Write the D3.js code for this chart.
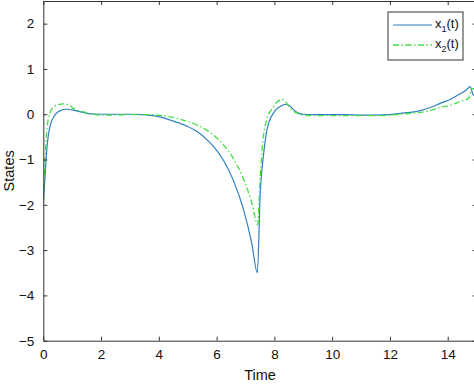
<!DOCTYPE html>
<html>
<head>
<meta charset="utf-8">
<script src="https://cdn.jsdelivr.net/npm/d3@7"></script>
<style>
  body { margin: 0; background: #fff; }
  svg { display: block; font-family: 'Liberation Sans', Arial, sans-serif; }
</style>
</head>
<body>
<svg id="chart" width="474" height="384"></svg>
<script>
// ---------- DATA ----------
const time1 = [0, 0.06, 0.12, 0.23, 0.4, 0.58, 0.81, 1.05, 1.3, 1.62, 2, 2.5, 3, 3.5, 3.8, 4.1, 4.4, 4.73, 5.0,
  5.43, 5.66, 5.89, 6.23, 6.58, 6.93, 7.22, 7.41, 7.51, 7.63, 7.74, 7.97, 8.2, 8.41, 8.55, 8.7, 8.85, 9.0, 9.5,
  10, 10.5, 11, 11.5, 12, 12.36, 12.7, 13.05, 13.4, 13.74, 14.1, 14.43, 14.65, 14.78, 14.88, 15];
const x1Values = [-1.96, -1.38, -0.79, -0.27, -0.02, 0.08, 0.11, 0.09, 0.05, 0.01, 0, 0, 0, -0.01, -0.03, -0.07, -0.13, -0.2, -0.27,
  -0.43, -0.56, -0.71, -1.01, -1.46, -2.1, -2.86, -3.5, -1.74, -0.86, -0.35, 0.03, 0.17, 0.22, 0.17, 0.08, 0.02, 0, -0.01,
  -0.01, -0.01, -0.02, -0.02, -0.01, 0.02, 0.04, 0.08, 0.15, 0.24, 0.33, 0.45, 0.54, 0.61, 0.43, 0.4];

const time2 = [0, 0.06, 0.12, 0.23, 0.4, 0.52, 0.69, 0.9, 1.04, 1.39, 1.62, 2, 2.5, 3, 3.5, 3.8, 4.1, 4.4, 4.73, 5.0,
  5.43, 5.89, 6.23, 6.58, 6.93, 7.22, 7.42, 7.5, 7.6, 7.72, 7.95, 8.1, 8.26, 8.45, 8.6, 8.8, 9.0, 9.5,
  10, 10.5, 11, 11.5, 12, 12.36, 12.7, 13.05, 13.4, 13.74, 14.1, 14.43, 14.72, 14.85, 15];
const x2Values = [-1.9, -1.0, -0.38, 0.03, 0.18, 0.21, 0.23, 0.2, 0.13, 0.05, 0.01, -0.02, -0.02, -0.01, -0.01, -0.01, -0.03, -0.06, -0.11, -0.16,
  -0.27, -0.46, -0.67, -0.98, -1.43, -1.96, -2.44, -1.5, -0.6, -0.15, 0.15, 0.27, 0.33, 0.22, 0.1, 0.02, -0.02, -0.03,
  -0.03, -0.03, -0.03, -0.03, -0.02, 0, 0.02, 0.04, 0.08, 0.15, 0.2, 0.28, 0.35, 0.57, 0.5];

const xTicks = [0, 2, 4, 6, 8, 10, 12, 14];
const yTicks = [-5, -4, -3, -2, -1, 0, 1, 2];
const seriesNames = ['x', 'x'];
const seriesSubs = ['1', '2'];

// ---------- CHART ----------
(function drawChart() {
  const svg = d3.select('#chart');
  const m = { left: 43.3, right: 476.6, top: 1, bottom: 340.7 };
  const axisColor = '#333';

  const x = d3.scaleLinear().domain([0, 15]).range([m.left, m.right]);
  const y = d3.scaleLinear().domain([-5, 2.5]).range([m.bottom, m.top]);

  svg.append('defs').append('clipPath').attr('id', 'clip')
    .append('rect').attr('x', m.left).attr('y', m.top)
    .attr('width', m.right - m.left).attr('height', m.bottom - m.top);

  const series = [
    { t: time1, v: x1Values, color: '#2f7fc1', dash: null, width: 1.2 },
    { t: time2, v: x2Values, color: '#3fe03f', dash: '6,2.5,1.5,2.5', width: 1.3 },
  ];

  const line = d3.line()
    .x((d) => x(d[0]))
    .y((d) => y(d[1]))
    .curve(d3.curveMonotoneX);

  const plot = svg.append('g').attr('clip-path', 'url(#clip)');
  series.forEach((s) => {
    plot.append('path')
      .datum(s.t.map((t, i) => [t, s.v[i]]))
      .attr('fill', 'none')
      .attr('stroke', s.color)
      .attr('stroke-width', s.width)
      .attr('stroke-dasharray', s.dash)
      .attr('d', line);
  });

  // axes: box with inward ticks
  const fontSize = 13.5;
  svg.append('g')
    .attr('transform', `translate(0,${m.bottom})`)
    .call(d3.axisBottom(x).tickValues(xTicks).tickSizeInner(-4).tickSizeOuter(0).tickPadding(9))
    .call((g) => g.select('.domain').attr('stroke', axisColor))
    .call((g) => g.selectAll('line').attr('stroke', axisColor))
    .call((g) => g.selectAll('text').attr('fill', '#111').attr('font-size', fontSize));

  svg.append('g')
    .attr('transform', `translate(0,${m.top})`)
    .call(d3.axisTop(x).tickValues(xTicks).tickSizeInner(-4).tickSizeOuter(0).tickFormat(''))
    .call((g) => g.select('.domain').attr('stroke', axisColor))
    .call((g) => g.selectAll('line').attr('stroke', axisColor));

  svg.append('g')
    .attr('transform', `translate(${m.left},0)`)
    .call(d3.axisLeft(y).tickValues(yTicks).tickSizeInner(-4).tickSizeOuter(0).tickPadding(9))
    .call((g) => g.select('.domain').attr('stroke', axisColor))
    .call((g) => g.selectAll('line').attr('stroke', axisColor))
    .call((g) => g.selectAll('text').attr('fill', '#111').attr('font-size', fontSize));

  svg.append('g')
    .attr('transform', `translate(${m.right},0)`)
    .call(d3.axisRight(y).tickValues(yTicks).tickSizeInner(-4).tickSizeOuter(0).tickFormat(''))
    .call((g) => g.select('.domain').attr('stroke', axisColor))
    .call((g) => g.selectAll('line').attr('stroke', axisColor));

  // axis labels
  svg.append('text')
    .attr('x', 260).attr('y', 380)
    .attr('text-anchor', 'middle')
    .attr('font-size', 14.5).attr('fill', '#111')
    .text('Time');

  svg.append('text')
    .attr('transform', `translate(14,${(m.top + m.bottom) / 2}) rotate(-90)`)
    .attr('text-anchor', 'middle')
    .attr('font-size', 14.5).attr('fill', '#111')
    .text('States');

  // legend
  const legend = svg.append('g').attr('transform', 'translate(388,12)');
  legend.append('rect')
    .attr('width', 75).attr('height', 48)
    .attr('fill', '#fff').attr('stroke', '#333').attr('stroke-width', 1);

  series.forEach((s, i) => {
    const ly = 13 + i * 20;
    legend.append('line')
      .attr('x1', 5).attr('x2', 44).attr('y1', ly).attr('y2', ly)
      .attr('stroke', s.color).attr('stroke-width', s.width)
      .attr('stroke-dasharray', s.dash);
    const txt = legend.append('text')
      .attr('x', 47).attr('y', ly + 3)
      .attr('font-size', 13).attr('fill', '#111');
    txt.append('tspan').text(seriesNames[i]);
    txt.append('tspan').attr('dy', 4).attr('font-size', 9).text(seriesSubs[i]);
    txt.append('tspan').attr('dy', -4).text('(t)');
  });
})();
</script>
</body>
</html>
